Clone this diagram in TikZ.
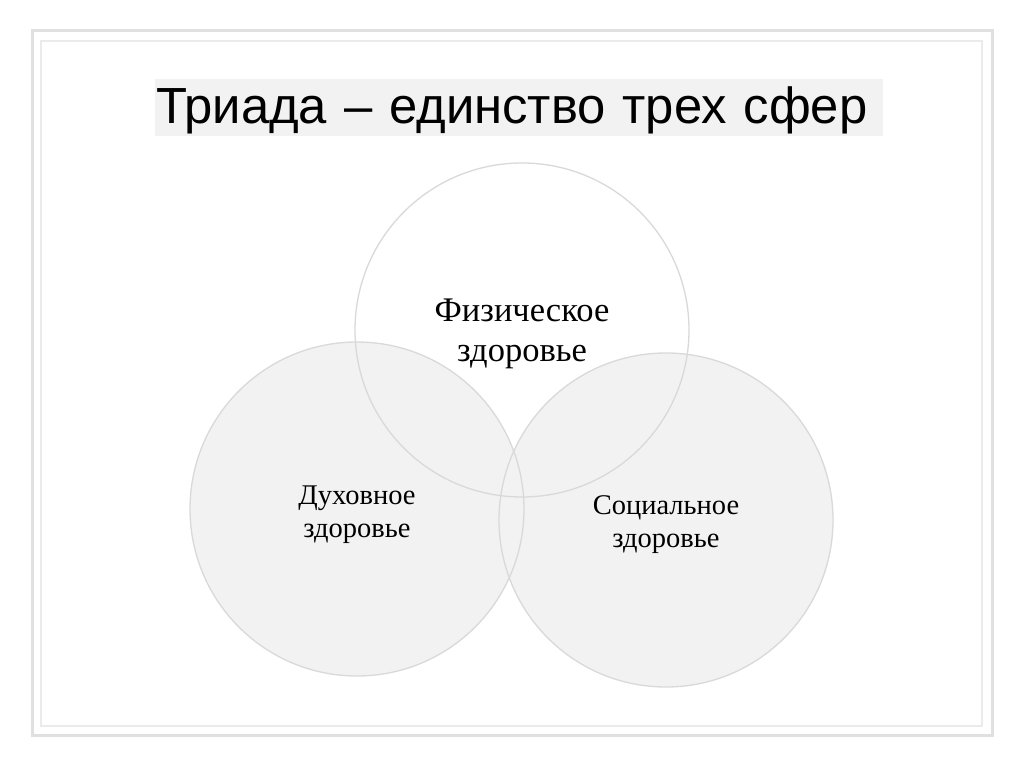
\documentclass[tikz,border=0pt]{standalone}
\usepackage{fontspec}
\setmainfont{Liberation Serif}
\newfontfamily\headfont{Liberation Sans}
\definecolor{spherefill}{HTML}{F2F2F2}
\definecolor{sphereline}{HTML}{D9D9D9}
\definecolor{frameout}{HTML}{E0E0E0}
\definecolor{framein}{HTML}{EBEBEB}
\begin{document}
\begin{tikzpicture}[x=1pt,y=-1pt,
  sphere/.style={circle, minimum size=334pt, inner sep=0pt},
  ring/.style={draw=sphereline, line width=1.3pt},
  bigtext/.style={align=center, font=\fontsize{34.5}{40}\selectfont},
  smalltext/.style={align=center, font=\fontsize{28.5}{33}\selectfont}]
\useasboundingbox[fill=white] (0,0) rectangle (1024,767);
\draw[frameout, line width=3pt] (32,31) rectangle (992,735);
\draw[framein, line width=1.5pt] (41,41) rectangle (982,726);
\node[fill=spherefill, anchor=west, minimum height=57pt, text width=726pt, inner xsep=1pt, align=left,
  text height=40pt, text depth=8pt,
  font=\headfont\fontsize{50.8}{58}\selectfont] (title) at (155,108) {Триада – единство трех сфер};
% circles
\node[sphere, fill=white] (phys) at (522,330) {};
\node[sphere, fill=spherefill] (spirit) at (357,509) {};
\node[sphere, fill=spherefill] (social) at (666,520) {};
\foreach \n in {phys,spirit,social}
  \draw[ring] (\n.center) circle[radius=167pt];
% labels
\node[bigtext] (physlbl) at ([yshift=-4pt]phys.center) {Физическое\\здоровье};
\node[smalltext] (spiritlbl) at ([yshift=-6pt]spirit.center) {Духовное\\здоровье};
\node[smalltext] (sociallbl) at ([yshift=-5pt]social.center) {Социальное\\здоровье};
\end{tikzpicture}
\end{document}
